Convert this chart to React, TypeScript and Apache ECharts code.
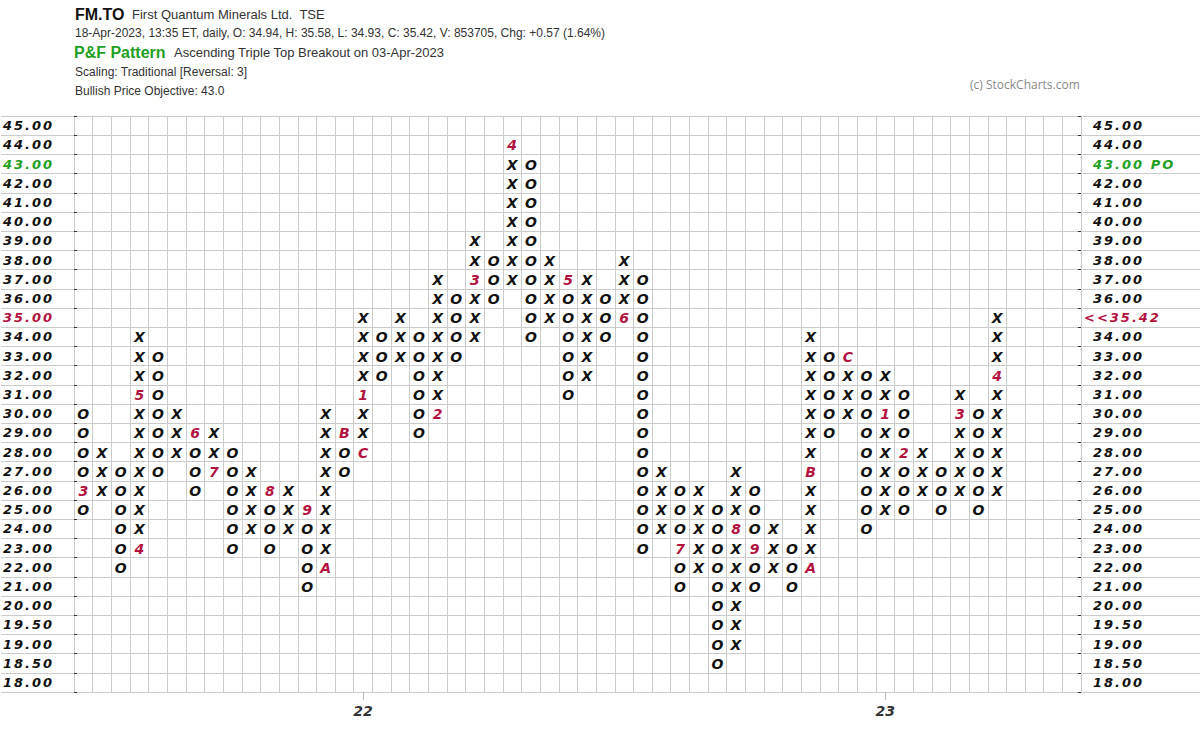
import React, { useEffect, useRef } from "react";
import * as echarts from "echarts";

// Price levels of the P&F boxes (bottom to top)
const priceLevels = [18, 18.5, 19, 19.5, 20, 21, 22, 23, 24, 25, 26, 27, 28, 29, 30, 31, 32, 33, 34, 35, 36, 37, 38, 39, 40, 41, 42, 43, 44, 45];
const priceLabels = priceLevels.map((p) => p.toFixed(2));

// Columns: [type, first box, last box]
const columns: Array<[string, number, number]> = [
  ["O", 30, 25], ["X", 26, 28], ["O", 27, 22], ["X", 23, 34], ["O", 33, 27],
  ["X", 28, 30], ["O", 29, 26], ["X", 27, 29], ["O", 28, 23], ["X", 24, 27],
  ["O", 26, 23], ["X", 24, 26], ["O", 25, 21], ["X", 22, 30], ["O", 29, 27],
  ["X", 28, 35], ["O", 34, 32], ["X", 33, 35], ["O", 34, 29], ["X", 30, 37],
  ["O", 36, 33], ["X", 34, 39], ["O", 38, 36], ["X", 37, 44], ["O", 43, 34],
  ["X", 35, 38], ["O", 37, 31], ["X", 32, 37], ["O", 36, 34], ["X", 35, 38],
  ["O", 37, 23], ["X", 24, 27], ["O", 26, 21], ["X", 22, 26], ["O", 25, 18.5],
  ["X", 19, 27], ["O", 26, 21], ["X", 22, 24], ["O", 23, 21], ["X", 22, 34],
  ["O", 33, 29], ["X", 30, 33], ["O", 32, 24], ["X", 25, 32], ["O", 31, 25],
  ["X", 26, 28], ["O", 27, 25], ["X", 26, 31], ["O", 30, 25], ["X", 26, 35],
];
const totalColumns = 54;

// Month markers: [column, price, label]
const monthMarkers: Array<[number, number, string]> = [
  [0, 26, "3"], [3, 23, "4"], [3, 31, "5"], [6, 29, "6"], [7, 27, "7"],
  [10, 26, "8"], [12, 25, "9"], [13, 22, "A"], [14, 29, "B"], [15, 28, "C"],
  [15, 31, "1"], [19, 30, "2"], [21, 37, "3"], [23, 44, "4"], [26, 37, "5"],
  [29, 35, "6"], [32, 23, "7"], [35, 24, "8"], [36, 23, "9"], [39, 22, "A"],
  [39, 27, "B"], [41, 33, "C"], [43, 30, "1"], [44, 28, "2"], [47, 30, "3"],
  [49, 32, "4"],
];
const yearLabels = ["22", "23"];

const priceObjective = 43;
const lastPrice = 35.42;

const RED = "#b3123f";
const GREEN = "#1fa01f";
const GRID = "#cbcbcb";
const FONT_AX = '"DejaVu Sans", Verdana, sans-serif';
const FONT_HDR = '"Liberation Sans", Arial, sans-serif';

export default function App() {
  const ref = useRef<HTMLDivElement>(null);

  useEffect(() => {
    if (!ref.current) return;
    const chart = echarts.init(ref.current, undefined, { renderer: "svg" });

    const cells: Array<{ col: number; row: number; ch: string; color: string }> = [];
    columns.forEach(([type, a, b], ci) => {
      const lo = Math.min(a, b);
      const hi = Math.max(a, b);
      priceLevels.forEach((p, ri) => {
        if (p >= lo && p <= hi) {
          const m = monthMarkers.find((mk) => mk[0] === ci && mk[1] === p);
          cells.push({ col: ci, row: ri, ch: m ? m[2] : type, color: m ? RED : "#111" });
        }
      });
    });

    const januaryCols = monthMarkers.filter((m) => m[2] === "1").map((m) => m[0]);
    const yearOfCol = (i: number) => {
      const k = januaryCols.indexOf(i);
      return k >= 0 ? yearLabels[k] : "";
    };

    const objectiveLabel = priceObjective.toFixed(2);
    const lastRowLabel = Math.floor(lastPrice).toFixed(2);

    const spaced = (s: string, k: string) =>
      s.split("").map((c) => `{${k}|${c}}`).join("");
    const tok = (color: string) => ({
      color,
      fontFamily: FONT_AX,
      fontWeight: "bold" as const,
      fontStyle: "italic" as const,
      fontSize: 13,
      padding: [0, 2, 0, 0],
    });
    const rich = { n: tok("#111"), g: tok(GREEN), r: tok(RED), s: { width: 9 } };

    const colCats = Array.from({ length: totalColumns }, (_, i) => String(i));

    const option: any = {
      animation: false,
      backgroundColor: "#ffffff",
      grid: { left: 73, top: 116, width: 1008, height: 576, containLabel: false },
      xAxis: [
        {
          type: "category",
          data: colCats,
          boundaryGap: true,
          position: "bottom",
          axisLine: { show: true, lineStyle: { color: GRID, width: 1 } },
          axisTick: {
            show: true,
            alignWithLabel: true,
            length: 8,
            interval: (i: number) => yearOfCol(i) !== "",
            lineStyle: { color: "#b5b5b5" },
          },
          axisLabel: {
            show: true,
            interval: (i: number) => yearOfCol(i) !== "",
            formatter: (_v: string, i: number) => yearOfCol(i),
            margin: 12,
            color: "#333",
            fontFamily: FONT_AX,
            fontWeight: "bold",
            fontStyle: "italic",
            fontSize: 14,
          },
          splitLine: { show: true, interval: 0, lineStyle: { color: GRID, width: 1 } },
        },
        {
          type: "category",
          data: colCats,
          position: "top",
          axisLine: { show: true, lineStyle: { color: GRID, width: 1 } },
          axisTick: { show: false },
          axisLabel: { show: false },
        },
      ],
      yAxis: [
        {
          type: "category",
          data: priceLabels,
          boundaryGap: true,
          position: "left",
          axisLine: { show: true, lineStyle: { color: GRID, width: 1 } },
          axisTick: { show: true, length: 73, lineStyle: { color: GRID, width: 1 } },
          axisLabel: {
            show: true,
            align: "left",
            margin: 71,
            formatter: (v: string) =>
              spaced(v, v === objectiveLabel ? "g" : v === lastRowLabel ? "r" : "n"),
            rich,
          },
          splitLine: { show: true, interval: 0, lineStyle: { color: GRID, width: 1 } },
        },
        {
          type: "category",
          data: priceLabels,
          boundaryGap: true,
          position: "right",
          axisLine: { show: true, lineStyle: { color: GRID, width: 1 } },
          axisTick: { show: true, length: 119, lineStyle: { color: GRID, width: 1 } },
          axisLabel: {
            show: true,
            align: "left",
            margin: 3,
            formatter: (v: string) => {
              if (v === objectiveLabel) return "{s| }" + spaced(v, "g") + "{g| }" + spaced("PO", "g");
              if (v === lastRowLabel) return spaced("<<" + lastPrice.toFixed(2), "r");
              return "{s| }" + spaced(v, "n");
            },
            rich,
          },
        },
        {
          type: "category",
          data: priceLabels,
          position: "left",
          z: 5,
          axisLine: { show: false },
          axisTick: { show: true, inside: true, length: 3, lineStyle: { color: "#333", width: 1 } },
          axisLabel: { show: false },
        },
        {
          type: "category",
          data: priceLabels,
          position: "right",
          z: 5,
          axisLine: { show: false },
          axisTick: { show: true, inside: true, length: 3, lineStyle: { color: "#333", width: 1 } },
          axisLabel: { show: false },
        },
      ],
      series: [
        {
          type: "custom",
          xAxisIndex: 0,
          yAxisIndex: 0,
          data: cells.map((c) => [c.col, c.row]),
          renderItem: (params: any, api: any) => {
            const pt = api.coord([api.value(0), api.value(1)]);
            const c = cells[params.dataIndex];
            return {
              type: "text",
              x: pt[0],
              y: pt[1] + 0.5,
              style: {
                text: c.ch,
                fill: c.color,
                font: `italic bold 14px ${FONT_AX}`,
                align: "center",
                verticalAlign: "middle",
              },
            };
          },
          z: 10,
        },
      ],
      graphic: [
        { type: "text", left: 75, top: 6, style: { text: "FM.TO", font: `bold 16px ${FONT_HDR}`, fill: "#111" } },
        { type: "text", left: 132, top: 8, style: { text: "First Quantum Minerals Ltd.  TSE", font: `13px ${FONT_HDR}`, fill: "#333" } },
        {
          type: "text", left: 75, top: 27,
          style: { text: "18-Apr-2023, 13:35 ET, daily, O: 34.94, H: 35.58, L: 34.93, C: 35.42, V: 853705, Chg: +0.57 (1.64%)", font: `12px ${FONT_HDR}`, fill: "#333" },
        },
        { type: "text", left: 74, top: 44, style: { text: "P&F Pattern", font: `bold 16px ${FONT_HDR}`, fill: GREEN } },
        { type: "text", left: 174, top: 46, style: { text: "Ascending Triple Top Breakout on 03-Apr-2023", font: `13px ${FONT_HDR}`, fill: "#333" } },
        { type: "text", left: 75, top: 66, style: { text: "Scaling: Traditional [Reversal: 3]", font: `12px ${FONT_HDR}`, fill: "#333" } },
        { type: "text", left: 75, top: 85, style: { text: "Bullish Price Objective: 43.0", font: `12px ${FONT_HDR}`, fill: "#333" } },
        { type: "text", left: 970, top: 78, style: { text: "(c) StockCharts.com", font: `12px "Open Sans", sans-serif`, fill: "#888" } },
      ],
    };

    chart.setOption(option);
    return () => chart.dispose();
  }, []);

  return (
    <div style={{ position: "fixed", left: 0, top: 0, width: 1200, height: 749, background: "#fff" }}>
      <div ref={ref} style={{ width: 1200, height: 749 }} />
    </div>
  );
}
